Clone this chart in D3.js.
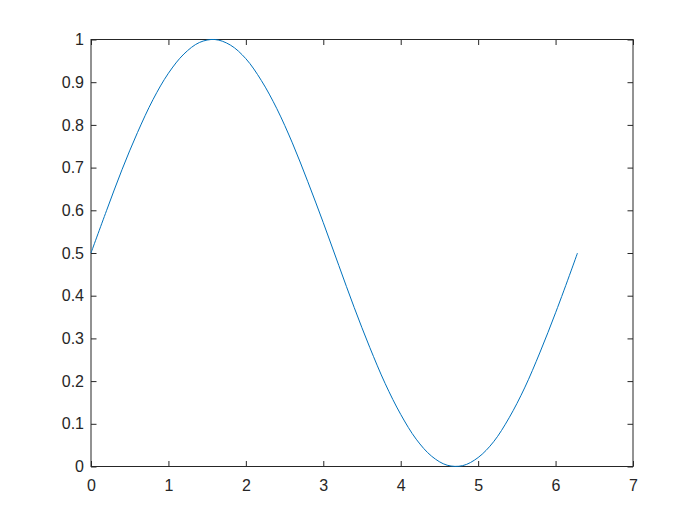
<!DOCTYPE html>
<html>
<head>
<meta charset="utf-8">
<script src="https://cdn.jsdelivr.net/npm/d3@7"></script>
<style>
  body { margin: 0; background: #fff; }
  svg { display: block; }
  .tick text { font-family: "Liberation Sans", Arial, sans-serif; font-size: 16px; fill: #262626; }
</style>
</head>
<body>
<svg id="chart" width="700" height="525"></svg>
<script>
// values
const xVals = [0, 0.2, 0.4, 0.6, 0.8, 1.0, 1.2, 1.4, 1.6, 1.8, 2.0, 2.2, 2.4, 2.6, 2.8, 3.0,
  3.2, 3.4, 3.6, 3.8, 4.0, 4.2, 4.4, 4.6, 4.8, 5.0, 5.2, 5.4, 5.6, 5.8, 6.0, 6.2, 6.283]
const yVals = [0.500, 0.599, 0.695, 0.782, 0.859, 0.921, 0.966, 0.993, 1.000, 0.987, 0.955, 0.904,
  0.838, 0.758, 0.667, 0.571, 0.471, 0.372, 0.279, 0.194, 0.122, 0.064, 0.024, 0.003, 0.002,
  0.021, 0.058, 0.114, 0.184, 0.268, 0.360, 0.458, 0.500]
const xTicks = [0, 1, 2, 3, 4, 5, 6, 7]
const yTicks = [0, 0.1, 0.2, 0.3, 0.4, 0.5, 0.6, 0.7, 0.8, 0.9, 1]

const plotLeft = 91, plotRight = 633, plotTop = 39.5, plotBottom = 466.5
const svg = d3.select('#chart')

let x = d3.scaleLinear().domain([0, 7]).range([plotLeft, plotRight])
let y = d3.scaleLinear().domain([0, 1]).range([plotBottom, plotTop])
const tickLen = 5.5

//axes with inward ticks, mirrored on top and right
function styleAxis(g) {
  g.select('.domain').remove()
  g.selectAll('.tick line').attr('stroke', '#262626')
}
svg.append('g').attr('transform', `translate(0,${plotBottom})`)
  .call(d3.axisBottom(x).tickValues(xTicks).tickSizeInner(-tickLen).tickSizeOuter(0).tickPadding(13.5).tickFormat(d3.format('')))
  .call(styleAxis)
svg.append('g').attr('transform', `translate(0,${plotTop})`)
  .call(d3.axisTop(x).tickValues(xTicks).tickSizeInner(-tickLen).tickSizeOuter(0).tickFormat(''))
  .call(styleAxis)
svg.append('g').attr('transform', `translate(${plotLeft},0)`)
  .call(d3.axisLeft(y).tickValues(yTicks).tickSizeInner(-tickLen).tickSizeOuter(0).tickPadding(7).tickFormat(d3.format('')))
  .call(styleAxis)
svg.append('g').attr('transform', `translate(${plotRight},0)`)
  .call(d3.axisRight(y).tickValues(yTicks).tickSizeInner(-tickLen).tickSizeOuter(0).tickFormat(''))
  .call(styleAxis)

//box
svg.append('rect')
  .attr('x', plotLeft).attr('y', plotTop)
  .attr('width', plotRight - plotLeft).attr('height', plotBottom - plotTop)
  .attr('fill', 'none').attr('stroke', '#262626').attr('stroke-width', 1)

//curve
let line = d3.line().x((d, i) => x(xVals[i])).y(d => y(d)).curve(d3.curveCatmullRom.alpha(0.5))
svg.append('path')
  .datum(yVals)
  .attr('d', line)
  .attr('fill', 'none')
  .attr('stroke', '#0072BD')
  .attr('stroke-width', 1)
</script>
</body>
</html>
